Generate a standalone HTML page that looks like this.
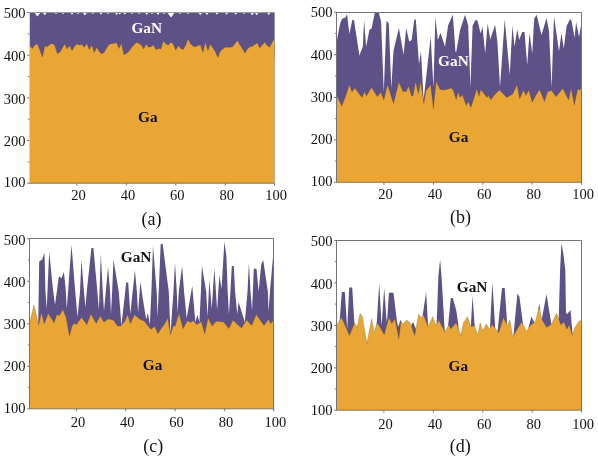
<!DOCTYPE html>
<html lang="en"><head><meta charset="utf-8"><title>GaN / Ga profiles</title>
<style>html,body{margin:0;padding:0;background:#fff}svg{display:block}</style></head>
<body>
<svg width="598" height="461" viewBox="0 0 598 461">
<rect width="598" height="461" fill="#fff"/>
<g id="chart-a">
<polygon fill="#5D5187" points="30.0,13.0 34.7,13.0 37.4,16.6 40.1,13.0 43.1,13.0 44.7,15.2 46.4,13.0 55.0,13.0 56.0,14.2 57.0,13.0 62.0,13.0 63.0,14.2 64.0,13.0 70.7,13.0 72.0,14.8 73.3,13.0 77.0,13.0 78.0,14.2 79.0,13.0 83.1,13.0 84.9,15.4 86.7,13.0 92.0,13.0 93.0,14.2 94.0,13.0 99.7,13.0 101.0,14.8 102.3,13.0 107.0,13.0 108.0,14.2 109.0,13.0 115.1,13.0 116.6,15.0 118.1,13.0 118.6,13.0 119.8,14.6 121.0,13.0 123.5,13.0 124.8,14.8 126.1,13.0 131.0,13.0 132.0,14.2 133.0,13.0 138.0,13.0 139.0,14.2 140.0,13.0 145.2,13.0 146.7,15.0 148.2,13.0 151.0,13.0 152.0,14.2 153.0,13.0 156.5,13.0 158.0,15.0 159.5,13.0 163.0,13.0 164.0,14.2 165.0,13.0 167.6,13.0 171.0,17.6 174.4,13.0 179.0,13.0 180.0,14.2 181.0,13.0 187.0,13.0 188.0,14.2 189.0,13.0 198.7,13.0 200.3,15.2 202.0,13.0 205.5,13.0 207.0,15.0 208.5,13.0 215.6,13.0 216.9,14.8 218.2,13.0 225.2,13.0 226.6,14.8 227.9,13.0 234.3,13.0 235.7,14.8 237.0,13.0 243.0,13.0 244.0,14.2 245.0,13.0 250.5,13.0 252.2,15.2 253.8,13.0 255.0,13.0 256.7,15.2 258.3,13.0 267.3,13.0 268.8,15.0 270.3,13.0 274.5,13.0 274.5,60.0 30.0,60.0"/>
<polygon fill="#E9A634" points="30.0,46.3 32.5,48.5 34.9,45.1 37.4,44.0 39.9,50.2 42.4,57.0 44.8,46.3 47.3,46.8 49.8,44.6 52.2,43.4 54.7,45.1 57.2,53.6 59.6,52.4 62.1,48.5 64.6,44.0 67.1,49.0 69.5,45.6 72.0,50.7 74.5,46.3 76.9,44.0 79.4,45.1 81.9,44.6 84.4,47.3 86.8,43.4 89.3,49.7 91.8,45.1 94.2,52.4 96.7,47.3 99.2,51.4 101.7,54.1 104.1,52.4 106.6,48.0 109.1,44.6 111.5,43.7 114.0,43.4 116.5,42.5 118.9,48.5 121.4,43.4 123.9,54.8 126.4,53.6 128.8,51.4 131.3,48.0 133.8,45.1 136.2,42.5 138.7,43.2 141.2,45.1 143.7,49.0 146.1,44.0 148.6,47.3 151.1,46.8 153.5,45.1 156.0,49.7 158.5,48.5 160.9,49.0 163.4,41.1 165.9,44.0 168.4,45.1 170.8,42.3 173.3,44.0 175.8,50.2 178.2,45.6 180.7,48.5 183.2,49.7 185.7,45.1 188.1,38.9 190.6,44.0 193.1,46.3 195.5,46.8 198.0,45.6 200.5,45.1 202.9,52.4 205.4,42.3 207.9,50.7 210.4,44.0 212.8,48.0 215.3,51.4 217.8,57.6 220.2,51.4 222.7,49.0 225.2,47.3 227.7,47.3 230.1,47.3 232.6,46.8 235.1,43.4 237.5,40.6 240.0,45.1 242.5,49.0 245.0,53.1 247.4,49.0 249.9,46.8 252.4,46.3 254.8,44.6 257.3,42.9 259.8,48.0 262.2,45.1 264.7,42.3 267.2,45.6 269.7,47.3 272.1,42.3 274.6,38.4 274.6,183.2 30.0,183.2"/>
<polyline fill="none" stroke="#6b4a1c" stroke-opacity=".45" stroke-width=".6" points="30.0,46.3 32.5,48.5 34.9,45.1 37.4,44.0 39.9,50.2 42.4,57.0 44.8,46.3 47.3,46.8 49.8,44.6 52.2,43.4 54.7,45.1 57.2,53.6 59.6,52.4 62.1,48.5 64.6,44.0 67.1,49.0 69.5,45.6 72.0,50.7 74.5,46.3 76.9,44.0 79.4,45.1 81.9,44.6 84.4,47.3 86.8,43.4 89.3,49.7 91.8,45.1 94.2,52.4 96.7,47.3 99.2,51.4 101.7,54.1 104.1,52.4 106.6,48.0 109.1,44.6 111.5,43.7 114.0,43.4 116.5,42.5 118.9,48.5 121.4,43.4 123.9,54.8 126.4,53.6 128.8,51.4 131.3,48.0 133.8,45.1 136.2,42.5 138.7,43.2 141.2,45.1 143.7,49.0 146.1,44.0 148.6,47.3 151.1,46.8 153.5,45.1 156.0,49.7 158.5,48.5 160.9,49.0 163.4,41.1 165.9,44.0 168.4,45.1 170.8,42.3 173.3,44.0 175.8,50.2 178.2,45.6 180.7,48.5 183.2,49.7 185.7,45.1 188.1,38.9 190.6,44.0 193.1,46.3 195.5,46.8 198.0,45.6 200.5,45.1 202.9,52.4 205.4,42.3 207.9,50.7 210.4,44.0 212.8,48.0 215.3,51.4 217.8,57.6 220.2,51.4 222.7,49.0 225.2,47.3 227.7,47.3 230.1,47.3 232.6,46.8 235.1,43.4 237.5,40.6 240.0,45.1 242.5,49.0 245.0,53.1 247.4,49.0 249.9,46.8 252.4,46.3 254.8,44.6 257.3,42.9 259.8,48.0 262.2,45.1 264.7,42.3 267.2,45.6 269.7,47.3 272.1,42.3 274.6,38.4"/>
<g stroke="#74747c" stroke-width="1" fill="none">
<path d="M29.0 12.5H274.5" stroke-opacity="0.75"/>
<path d="M274.5 12.5V183.2" stroke-opacity="0.35"/>
<path d="M29.5 12.5V183.2" stroke-opacity="0.3"/>
<path d="M27.1 183.2H275.0" stroke="#7d6a55" stroke-width=".9"/>
<path d="M27.1 12.5h2.4M27.9 33.8h1.6M27.1 55.2h2.4M27.9 76.5h1.6M27.1 97.8h2.4M27.9 119.2h1.6M27.1 140.5h2.4M27.9 161.9h1.6M76.9 183.2v2.4M126.4 183.2v2.4M175.8 183.2v2.4M225.2 183.2v2.4M274.6 183.2v2.4"/>
</g>
<g font-family="'Liberation Serif', serif" font-size="14.5" fill="#111">
<text x="25.4" y="18.4" text-anchor="end">500</text>
<text x="25.4" y="61.2" text-anchor="end">400</text>
<text x="25.4" y="104.4" text-anchor="end">300</text>
<text x="25.4" y="145.8" text-anchor="end">200</text>
<text x="25.4" y="186.5" text-anchor="end">100</text>
<text x="78.4" y="200.1" text-anchor="middle">20</text>
<text x="127.9" y="200.1" text-anchor="middle">40</text>
<text x="177.3" y="200.1" text-anchor="middle">60</text>
<text x="226.7" y="200.1" text-anchor="middle">80</text>
<text x="276.1" y="200.1" text-anchor="middle">100</text>
</g>
<g font-family="'Liberation Serif', serif" font-size="15.3" font-weight="bold">
<text x="131.4" y="33.4" fill="#fff">GaN</text>
<text x="138.1" y="122.1" fill="#111">Ga</text>
</g>
<text x="151.5" y="224.8" text-anchor="middle" font-family="'Liberation Serif', serif" font-size="18" fill="#111">(a)</text>
</g>
<g id="chart-b">
<polygon fill="#5D5187" points="337.0,40.1 340.0,24.0 342.0,18.7 345.4,17.4 347.0,14.0 349.4,34.1 352.3,20.0 354.0,20.0 359.4,55.5 362.8,46.8 364.1,20.0 366.1,46.8 369.5,29.4 371.5,28.7 374.8,12.7 378.8,12.7 381.1,21.4 383.8,92.0 386.4,20.7 388.8,23.4 391.3,88.0 393.5,50.8 398.9,28.0 403.6,54.8 406.2,28.0 409.2,41.4 411.6,40.1 414.3,19.4 415.8,19.4 419.0,64.0 421.0,51.5 423.6,100.0 430.7,36.8 433.4,87.0 435.4,16.7 437.8,40.1 440.5,32.7 445.0,46.8 448.1,25.4 452.8,14.4 455.5,52.1 456.2,52.1 460.2,29.4 465.1,14.7 468.2,25.4 470.4,87.0 472.6,25.4 475.6,20.0 477.6,20.7 480.6,33.4 482.5,26.7 485.2,53.5 487.6,23.4 490.3,39.4 495.1,24.7 497.4,41.4 500.0,87.0 504.7,19.4 509.8,74.7 512.4,25.4 514.5,46.8 517.2,29.4 519.2,40.1 522.1,32.1 524.5,32.1 527.2,65.0 529.5,32.7 532.2,53.5 534.2,18.7 536.6,14.7 541.5,35.0 546.5,18.0 549.0,31.0 551.6,87.4 554.0,16.2 559.0,51.5 561.4,33.2 563.8,48.5 566.6,26.1 570.1,19.0 571.6,21.0 574.6,38.1 576.1,22.0 579.1,37.1 581.6,22.0 581.6,115.0 337.0,115.0"/>
<polygon fill="#E9A634" points="337.0,96.1 341.8,106.2 345.4,96.8 349.4,84.8 352.0,92.1 354.7,88.1 362.1,97.5 364.5,91.5 366.4,96.1 371.5,87.4 377.5,96.8 380.8,92.1 383.8,100.1 387.5,84.8 393.5,103.5 398.9,82.1 402.9,91.5 406.2,91.5 408.6,86.1 411.6,96.1 413.0,96.1 415.6,81.4 418.3,93.5 420.7,81.4 423.8,103.5 426.0,90.8 430.7,84.8 433.4,108.8 436.1,81.4 440.1,89.4 444.8,90.1 451.5,88.1 453.5,90.8 456.2,99.5 458.2,92.1 460.2,97.5 462.4,94.8 466.2,105.5 468.2,101.5 470.9,107.5 476.9,88.8 478.9,96.1 480.9,89.4 486.9,97.5 488.5,95.5 490.7,100.1 494.0,95.5 499.4,90.1 506.7,97.5 512.8,94.1 517.0,84.8 519.7,98.8 523.5,90.1 525.9,95.5 528.8,90.1 532.2,102.2 536.2,94.8 539.5,89.4 544.5,101.5 547.5,92.0 551.3,90.2 556.0,96.8 562.8,88.4 568.6,100.1 571.1,88.1 574.3,105.1 577.6,89.6 581.6,89.6 581.6,182.3 337.0,182.3"/>
<polyline fill="none" stroke="#6b4a1c" stroke-opacity=".45" stroke-width=".6" points="337.0,96.1 341.8,106.2 345.4,96.8 349.4,84.8 352.0,92.1 354.7,88.1 362.1,97.5 364.5,91.5 366.4,96.1 371.5,87.4 377.5,96.8 380.8,92.1 383.8,100.1 387.5,84.8 393.5,103.5 398.9,82.1 402.9,91.5 406.2,91.5 408.6,86.1 411.6,96.1 413.0,96.1 415.6,81.4 418.3,93.5 420.7,81.4 423.8,103.5 426.0,90.8 430.7,84.8 433.4,108.8 436.1,81.4 440.1,89.4 444.8,90.1 451.5,88.1 453.5,90.8 456.2,99.5 458.2,92.1 460.2,97.5 462.4,94.8 466.2,105.5 468.2,101.5 470.9,107.5 476.9,88.8 478.9,96.1 480.9,89.4 486.9,97.5 488.5,95.5 490.7,100.1 494.0,95.5 499.4,90.1 506.7,97.5 512.8,94.1 517.0,84.8 519.7,98.8 523.5,90.1 525.9,95.5 528.8,90.1 532.2,102.2 536.2,94.8 539.5,89.4 544.5,101.5 547.5,92.0 551.3,90.2 556.0,96.8 562.8,88.4 568.6,100.1 571.1,88.1 574.3,105.1 577.6,89.6 581.6,89.6"/>
<g stroke="#74747c" stroke-width="1" fill="none">
<path d="M336.0 12.5H581.5" stroke-opacity="1"/>
<path d="M581.5 12.5V182.3" stroke-opacity="1"/>
<path d="M336.5 12.5V182.3" stroke-opacity="1"/>
<path d="M334.1 182.3H582.0" stroke="#7d6a55" stroke-width=".9"/>
<path d="M334.1 12.3h2.4M334.9 33.5h1.6M334.1 54.8h2.4M334.9 76.0h1.6M334.1 97.3h2.4M334.9 118.5h1.6M334.1 139.8h2.4M334.9 161.1h1.6M383.9 182.3v2.4M433.4 182.3v2.4M482.8 182.3v2.4M532.2 182.3v2.4M581.6 182.3v2.4"/>
</g>
<g font-family="'Liberation Serif', serif" font-size="14.5" fill="#111">
<text x="332.4" y="17.0" text-anchor="end">500</text>
<text x="332.4" y="59.6" text-anchor="end">400</text>
<text x="332.4" y="101.6" text-anchor="end">300</text>
<text x="332.4" y="143.6" text-anchor="end">200</text>
<text x="332.4" y="185.6" text-anchor="end">100</text>
<text x="385.4" y="199.4" text-anchor="middle">20</text>
<text x="434.9" y="199.4" text-anchor="middle">40</text>
<text x="484.3" y="199.4" text-anchor="middle">60</text>
<text x="533.7" y="199.4" text-anchor="middle">80</text>
<text x="583.1" y="199.4" text-anchor="middle">100</text>
</g>
<g font-family="'Liberation Serif', serif" font-size="15.3" font-weight="bold">
<text x="438.1" y="65.8" fill="#fff">GaN</text>
<text x="448.8" y="141.8" fill="#111">Ga</text>
</g>
<text x="460.4" y="223.2" text-anchor="middle" font-family="'Liberation Serif', serif" font-size="18" fill="#111">(b)</text>
</g>
<g id="chart-c">
<polygon fill="#5D5187" points="38.2,346.0 38.2,325.0 39.2,261.4 42.1,259.4 44.5,252.7 45.4,290.0 46.7,309.0 49.2,251.4 52.8,288.0 55.0,305.0 58.9,276.2 61.5,278.2 63.9,272.1 65.6,288.0 66.8,308.8 71.5,244.7 74.9,288.0 77.5,316.8 80.0,292.0 81.4,259.4 84.0,292.0 85.5,307.5 86.7,292.0 91.4,248.0 93.4,248.0 97.4,292.0 98.9,310.0 100.8,254.1 102.8,292.0 104.0,311.0 108.1,266.8 110.1,292.0 111.0,314.0 112.1,292.0 113.5,259.4 118.8,292.0 121.4,325.4 126.2,282.5 128.2,282.5 130.3,314.0 134.9,270.3 136.9,292.0 138.1,312.8 140.4,281.7 143.0,300.0 146.2,319.5 147.9,312.8 149.8,324.8 151.4,292.0 153.0,245.4 156.7,292.0 157.5,316.8 158.7,292.0 160.7,244.0 162.7,244.0 168.8,292.0 170.5,334.0 173.4,292.0 175.0,262.8 176.8,292.0 177.6,313.0 178.8,292.0 182.1,266.1 184.1,292.0 186.7,318.2 192.2,285.7 195.4,322.2 197.4,314.8 199.4,322.2 200.9,292.0 201.9,265.4 206.2,292.0 207.5,316.8 209.4,279.7 211.7,308.8 214.4,268.1 217.1,310.1 219.4,275.0 221.5,289.0 224.4,241.4 226.4,256.1 227.7,292.0 228.9,314.0 230.4,292.0 231.8,266.1 233.8,266.1 235.1,292.0 237.3,314.2 238.6,302.0 244.8,322.0 247.5,292.0 248.9,262.8 250.5,292.0 252.1,310.4 253.8,268.8 256.5,268.8 258.6,291.5 261.3,264.0 263.2,260.1 267.9,292.0 268.6,311.7 269.9,292.0 273.8,248.1 273.8,346.0"/>
<polygon fill="#E9A634" points="29.5,323.4 34.0,305.0 38.7,325.2 41.4,312.4 44.2,323.8 48.2,313.4 54.1,322.8 56.8,314.7 59.5,315.4 62.8,309.4 66.1,317.2 69.4,336.0 72.1,326.0 74.6,323.0 76.4,324.8 81.5,317.4 86.9,324.7 90.9,314.0 96.2,323.4 100.2,316.0 104.0,322.2 108.0,318.9 113.4,320.0 117.4,326.1 120.7,326.0 124.7,321.4 127.7,314.4 130.4,323.8 134.5,314.7 140.1,319.4 144.1,321.0 150.8,329.2 154.8,326.6 157.8,333.8 161.5,328.0 164.5,324.0 167.7,318.0 170.5,334.7 173.2,326.0 175.2,326.0 179.0,313.2 183.1,328.7 187.4,320.7 190.7,322.6 193.4,320.7 196.8,324.7 201.4,321.4 204.7,334.0 208.1,317.8 212.1,326.0 216.2,321.2 223.5,322.1 228.9,328.6 232.9,320.2 237.0,324.0 241.6,328.0 246.6,319.9 251.7,325.6 256.2,314.6 264.0,325.6 268.6,319.2 270.6,323.8 273.8,320.2 273.8,408.8 29.5,408.8"/>
<polyline fill="none" stroke="#6b4a1c" stroke-opacity=".45" stroke-width=".6" points="29.5,323.4 34.0,305.0 38.7,325.2 41.4,312.4 44.2,323.8 48.2,313.4 54.1,322.8 56.8,314.7 59.5,315.4 62.8,309.4 66.1,317.2 69.4,336.0 72.1,326.0 74.6,323.0 76.4,324.8 81.5,317.4 86.9,324.7 90.9,314.0 96.2,323.4 100.2,316.0 104.0,322.2 108.0,318.9 113.4,320.0 117.4,326.1 120.7,326.0 124.7,321.4 127.7,314.4 130.4,323.8 134.5,314.7 140.1,319.4 144.1,321.0 150.8,329.2 154.8,326.6 157.8,333.8 161.5,328.0 164.5,324.0 167.7,318.0 170.5,334.7 173.2,326.0 175.2,326.0 179.0,313.2 183.1,328.7 187.4,320.7 190.7,322.6 193.4,320.7 196.8,324.7 201.4,321.4 204.7,334.0 208.1,317.8 212.1,326.0 216.2,321.2 223.5,322.1 228.9,328.6 232.9,320.2 237.0,324.0 241.6,328.0 246.6,319.9 251.7,325.6 256.2,314.6 264.0,325.6 268.6,319.2 270.6,323.8 273.8,320.2"/>
<g stroke="#74747c" stroke-width="1" fill="none">
<path d="M29.0 238.5H273.5" stroke-opacity="1"/>
<path d="M273.5 238.5V408.8" stroke-opacity="1"/>
<path d="M29.5 238.5V408.8" stroke-opacity="1"/>
<path d="M27.1 408.8H274.0" stroke="#7d6a55" stroke-width=".9"/>
<path d="M27.1 238.7h2.4M27.9 260.0h1.6M27.1 281.2h2.4M27.9 302.5h1.6M27.1 323.8h2.4M27.9 345.0h1.6M27.1 366.3h2.4M27.9 387.5h1.6M76.4 408.8v2.4M125.7 408.8v2.4M175.1 408.8v2.4M224.4 408.8v2.4M273.8 408.8v2.4"/>
</g>
<g font-family="'Liberation Serif', serif" font-size="14.5" fill="#111">
<text x="25.4" y="244.7" text-anchor="end">500</text>
<text x="25.4" y="286.8" text-anchor="end">400</text>
<text x="25.4" y="328.8" text-anchor="end">300</text>
<text x="25.4" y="370.6" text-anchor="end">200</text>
<text x="25.4" y="412.6" text-anchor="end">100</text>
<text x="77.9" y="427.1" text-anchor="middle">20</text>
<text x="127.2" y="427.1" text-anchor="middle">40</text>
<text x="176.6" y="427.1" text-anchor="middle">60</text>
<text x="225.9" y="427.1" text-anchor="middle">80</text>
<text x="275.3" y="427.1" text-anchor="middle">100</text>
</g>
<g font-family="'Liberation Serif', serif" font-size="15.3" font-weight="bold">
<text x="120.8" y="262.1" fill="#111">GaN</text>
<text x="142.8" y="369.8" fill="#111">Ga</text>
</g>
<text x="153.2" y="451.8" text-anchor="middle" font-family="'Liberation Serif', serif" font-size="18" fill="#111">(c)</text>
</g>
<g id="chart-d">
<polygon fill="#5D5187" points="339.6,346.0 339.6,322.0 341.8,292.1 344.8,292.1 347.2,329.0 349.2,287.4 352.2,287.4 354.4,323.0 354.4,346.0"/>
<polygon fill="#5D5187" points="376.7,346.0 376.7,323.5 379.2,283.4 381.6,326.0 384.2,288.1 386.6,321.5 387.4,316.8 388.9,292.7 393.5,292.7 396.9,321.0 398.2,327.0 400.6,319.8 402.4,324.5 402.4,346.0"/>
<polygon fill="#5D5187" points="411.3,346.0 411.3,325.0 413.0,322.0 416.0,329.0 416.0,346.0"/>
<polygon fill="#5D5187" points="422.7,346.0 422.7,315.5 426.1,292.1 428.1,326.0 428.1,346.0"/>
<polygon fill="#5D5187" points="436.6,346.0 436.6,325.0 438.4,276.0 440.1,259.4 441.5,276.0 444.8,332.0 444.8,346.0"/>
<polygon fill="#5D5187" points="448.1,346.0 448.1,326.0 450.8,298.1 452.8,298.1 456.2,310.1 458.4,325.0 458.4,346.0"/>
<polygon fill="#5D5187" points="470.9,346.0 470.9,326.0 472.5,295.4 474.7,326.0 474.7,346.0"/>
<polygon fill="#5D5187" points="490.0,346.0 490.0,328.0 492.4,282.0 495.2,328.5 495.2,346.0"/>
<polygon fill="#5D5187" points="497.6,346.0 497.6,331.0 502.0,288.1 504.7,288.1 506.9,320.0 506.9,346.0"/>
<polygon fill="#5D5187" points="513.6,346.0 513.6,334.0 517.4,293.4 519.4,296.8 522.8,322.5 522.8,346.0"/>
<polygon fill="#5D5187" points="528.6,346.0 528.6,327.0 531.5,316.8 534.4,322.5 534.4,346.0"/>
<polygon fill="#5D5187" points="538.3,310.0 539.2,303.8 540.2,310.0"/>
<polygon fill="#5D5187" points="541.7,346.0 541.7,319.5 546.5,294.1 551.3,324.0 551.3,346.0"/>
<polygon fill="#5D5187" points="558.6,346.0 558.6,322.0 560.1,270.0 561.4,243.1 563.4,254.1 565.3,270.0 566.0,313.0 567.3,314.0 570.5,310.0 572.6,335.0 572.6,346.0"/>
<polygon fill="#E9A634" points="337.0,324.7 341.4,317.4 346.7,329.0 349.4,335.5 354.7,322.7 357.0,327.4 360.1,313.4 362.4,316.7 366.8,343.5 371.7,318.7 374.1,332.8 377.1,322.7 380.2,327.4 384.2,334.8 388.9,317.4 391.8,323.4 394.9,318.7 398.9,338.8 400.9,321.4 402.9,324.1 406.9,320.1 410.0,322.7 414.7,335.5 418.7,314.0 421.4,318.1 423.4,314.7 428.1,326.8 432.7,316.7 436.1,326.1 438.8,320.1 444.8,332.1 448.8,324.7 450.8,328.8 456.2,322.7 460.8,335.5 463.5,322.7 467.5,316.7 470.9,326.8 474.5,325.5 477.6,335.5 480.2,322.7 482.9,330.8 486.3,324.1 489.3,328.8 492.4,324.7 498.7,332.8 503.4,317.4 507.4,325.4 509.8,320.1 512.8,336.8 521.5,322.1 526.8,331.4 530.1,325.4 535.5,321.4 539.2,306.0 541.5,318.7 546.5,327.3 551.3,324.4 556.5,313.2 560.8,324.8 564.0,322.1 566.9,329.3 569.2,324.7 572.1,335.1 575.7,326.0 579.6,320.8 581.6,321.2 581.6,410.2 337.0,410.2"/>
<polyline fill="none" stroke="#6b4a1c" stroke-opacity=".45" stroke-width=".6" points="337.0,324.7 341.4,317.4 346.7,329.0 349.4,335.5 354.7,322.7 357.0,327.4 360.1,313.4 362.4,316.7 366.8,343.5 371.7,318.7 374.1,332.8 377.1,322.7 380.2,327.4 384.2,334.8 388.9,317.4 391.8,323.4 394.9,318.7 398.9,338.8 400.9,321.4 402.9,324.1 406.9,320.1 410.0,322.7 414.7,335.5 418.7,314.0 421.4,318.1 423.4,314.7 428.1,326.8 432.7,316.7 436.1,326.1 438.8,320.1 444.8,332.1 448.8,324.7 450.8,328.8 456.2,322.7 460.8,335.5 463.5,322.7 467.5,316.7 470.9,326.8 474.5,325.5 477.6,335.5 480.2,322.7 482.9,330.8 486.3,324.1 489.3,328.8 492.4,324.7 498.7,332.8 503.4,317.4 507.4,325.4 509.8,320.1 512.8,336.8 521.5,322.1 526.8,331.4 530.1,325.4 535.5,321.4 539.2,306.0 541.5,318.7 546.5,327.3 551.3,324.4 556.5,313.2 560.8,324.8 564.0,322.1 566.9,329.3 569.2,324.7 572.1,335.1 575.7,326.0 579.6,320.8 581.6,321.2"/>
<g stroke="#74747c" stroke-width="1" fill="none">
<path d="M336.0 240.5H581.5" stroke-opacity="1"/>
<path d="M581.5 240.5V410.2" stroke-opacity="1"/>
<path d="M336.5 240.5V410.2" stroke-opacity="1"/>
<path d="M334.1 410.2H582.0" stroke="#7d6a55" stroke-width=".9"/>
<path d="M334.1 240.4h2.4M334.9 261.6h1.6M334.1 282.9h2.4M334.9 304.1h1.6M334.1 325.3h2.4M334.9 346.5h1.6M334.1 367.8h2.4M334.9 389.0h1.6M383.9 410.2v2.4M433.4 410.2v2.4M482.8 410.2v2.4M532.2 410.2v2.4M581.6 410.2v2.4"/>
</g>
<g font-family="'Liberation Serif', serif" font-size="14.5" fill="#111">
<text x="332.6" y="246.3" text-anchor="end">500</text>
<text x="332.6" y="289.0" text-anchor="end">400</text>
<text x="332.6" y="331.0" text-anchor="end">300</text>
<text x="332.6" y="372.8" text-anchor="end">200</text>
<text x="332.6" y="414.7" text-anchor="end">100</text>
<text x="385.4" y="428.5" text-anchor="middle">20</text>
<text x="434.9" y="428.5" text-anchor="middle">40</text>
<text x="484.3" y="428.5" text-anchor="middle">60</text>
<text x="533.7" y="428.5" text-anchor="middle">80</text>
<text x="583.1" y="428.5" text-anchor="middle">100</text>
</g>
<g font-family="'Liberation Serif', serif" font-size="15.3" font-weight="bold">
<text x="456.8" y="292.1" fill="#111">GaN</text>
<text x="448.6" y="371.3" fill="#111">Ga</text>
</g>
<text x="460.3" y="452.0" text-anchor="middle" font-family="'Liberation Serif', serif" font-size="18" fill="#111">(d)</text>
</g>
</svg>
</body></html>
